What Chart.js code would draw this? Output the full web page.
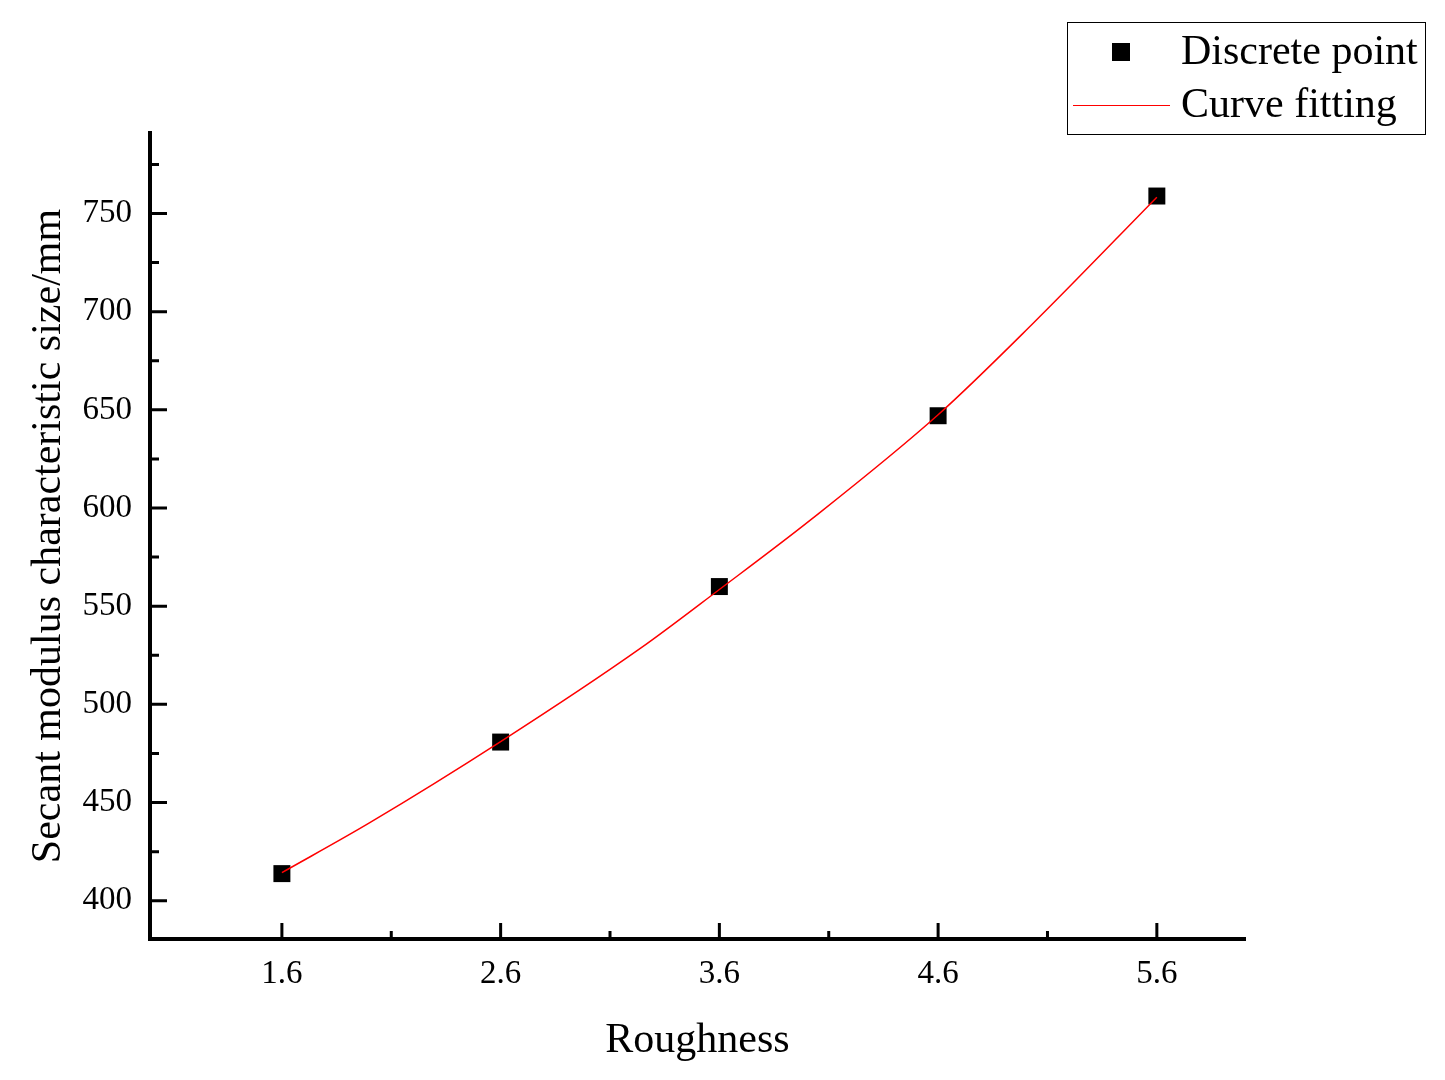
<!DOCTYPE html>
<html>
<head>
<meta charset="utf-8">
<script src="https://cdn.jsdelivr.net/npm/chart.js@4.4.1/dist/chart.umd.min.js"></script>
<style>
  html, body { margin: 0; padding: 0; background: #ffffff; }
  #wrap { width: 1445px; height: 1080px; position: relative; }
</style>
</head>
<body>
<div id="wrap"><canvas id="c" width="1445" height="1080"></canvas></div>
<script>
// ---- data ----
const xDiscrete = [1.6, 2.6, 3.6, 4.6, 5.6];
const yDiscrete = [413.8, 480.8, 560.0, 647.0, 758.9];

const xFit = [1.6, 2.0, 2.6, 3.24, 3.6, 4.02, 4.6, 5.03, 5.6];
const yFit = [414.3, 439.6, 481.0, 528.6, 558.5, 594.2, 647.5, 693.6, 758.3];

const xTicks = [1.6, 2.6, 3.6, 4.6, 5.6];
const xMinorTicks = [2.1, 3.1, 4.1, 5.1];
const yTicks = [400, 450, 500, 550, 600, 650, 700, 750];
const yMinorTicks = [425, 475, 525, 575, 625, 675, 725, 775];

const seriesLabels = ['Discrete point', 'Curve fitting'];
const xTitle = 'Roughness';
const yTitle = 'Secant modulus characteristic size/mm';

const FONT = '"Liberation Serif", "Times New Roman", serif';

// inward ticks drawn from the library's scales
const innerTicks = {
  id: 'innerTicks',
  afterDraw(chart) {
    const ctx = chart.ctx;
    const xs = chart.scales.x, ys = chart.scales.y;
    const area = chart.chartArea;
    ctx.save();
    ctx.strokeStyle = '#000';
    ctx.lineWidth = 3;
    ctx.beginPath();
    xTicks.forEach(v => { const p = xs.getPixelForValue(v); ctx.moveTo(p, area.bottom); ctx.lineTo(p, area.bottom - 16); });
    xMinorTicks.forEach(v => { const p = xs.getPixelForValue(v); ctx.moveTo(p, area.bottom); ctx.lineTo(p, area.bottom - 8); });
    yTicks.forEach(v => { const p = ys.getPixelForValue(v); ctx.moveTo(area.left, p); ctx.lineTo(area.left + 17, p); });
    yMinorTicks.forEach(v => { const p = ys.getPixelForValue(v); ctx.moveTo(area.left, p); ctx.lineTo(area.left + 9, p); });
    ctx.stroke();
    ctx.restore();
  }
};

// boxed legend at the top right
const boxLegend = {
  id: 'boxLegend',
  afterDraw(chart) {
    const ctx = chart.ctx;
    const ds = chart.data.datasets;
    const bx = 1067.5, by = 22.5, bw = 358, bh = 112;
    ctx.save();
    ctx.strokeStyle = '#000';
    ctx.lineWidth = 1;
    ctx.strokeRect(bx, by, bw, bh);
    ctx.font = '42px ' + FONT;
    ctx.textBaseline = 'middle';
    ctx.textAlign = 'left';
    // row 1: square marker
    ctx.fillStyle = ds[0].backgroundColor;
    ctx.fillRect(1112, 43, 18, 18);
    ctx.fillStyle = '#000';
    ctx.fillText(ds[0].label, 1181, 53);
    // row 2: line
    ctx.strokeStyle = ds[1].borderColor;
    ctx.lineWidth = 1;
    ctx.beginPath();
    ctx.moveTo(1073, 105.5);
    ctx.lineTo(1170, 105.5);
    ctx.stroke();
    ctx.fillText(ds[1].label, 1181, 106);
    ctx.restore();
  }
};

const chart = new Chart(document.getElementById('c'), {
  type: 'scatter',
  data: {
    datasets: [
      {
        label: seriesLabels[0],
        data: xDiscrete.map((x, i) => ({ x: x, y: yDiscrete[i] })),
        backgroundColor: '#000000',
        borderColor: '#000000',
        borderWidth: 0,
        pointStyle: 'rect',
        pointRadius: 12,
        pointHoverRadius: 12,
        showLine: false,
        order: 2
      },
      {
        label: seriesLabels[1],
        data: xFit.map((x, i) => ({ x: x, y: yFit[i] })),
        borderColor: '#ff0000',
        backgroundColor: '#ff0000',
        borderWidth: 1.5,
        pointRadius: 0,
        showLine: true,
        cubicInterpolationMode: 'monotone',
        order: 1
      }
    ]
  },
  options: {
    responsive: false,
    animation: false,
    events: [],
    layout: { padding: { left: 0, right: 200, top: 133, bottom: 0 } },
    plugins: {
      legend: { display: false },
      tooltip: { enabled: false }
    },
    scales: {
      x: {
        type: 'linear',
        min: 0.997,
        max: 6.003,
        afterBuildTicks: s => { s.ticks = xTicks.map(v => ({ value: v })); },
        afterFit: s => { s.height = 141; },
        grid: { display: false },
        border: { display: true, color: '#000', width: 4 },
        ticks: {
          color: '#000',
          font: { family: FONT, size: 33 },
          padding: 8,
          maxRotation: 0,
          callback: v => v.toFixed(1)
        },
        title: {
          display: true,
          text: xTitle,
          color: '#000',
          font: { family: FONT, size: 42 },
          padding: { top: 0, bottom: 14 }
        }
      },
      y: {
        type: 'linear',
        min: 380.5,
        max: 791,
        afterBuildTicks: s => { s.ticks = yTicks.map(v => ({ value: v })); },
        afterFit: s => { s.width = 150; },
        grid: { display: false },
        border: { display: true, color: '#000', width: 4 },
        ticks: {
          color: '#000',
          font: { family: FONT, size: 33 },
          padding: 10,
          callback: v => String(v)
        },
        title: {
          display: true,
          text: yTitle,
          color: '#000',
          font: { family: FONT, size: 42 },
          padding: { top: 24, bottom: 0 }
        }
      }
    }
  },
  plugins: [innerTicks, boxLegend]
});
</script>
</body>
</html>
